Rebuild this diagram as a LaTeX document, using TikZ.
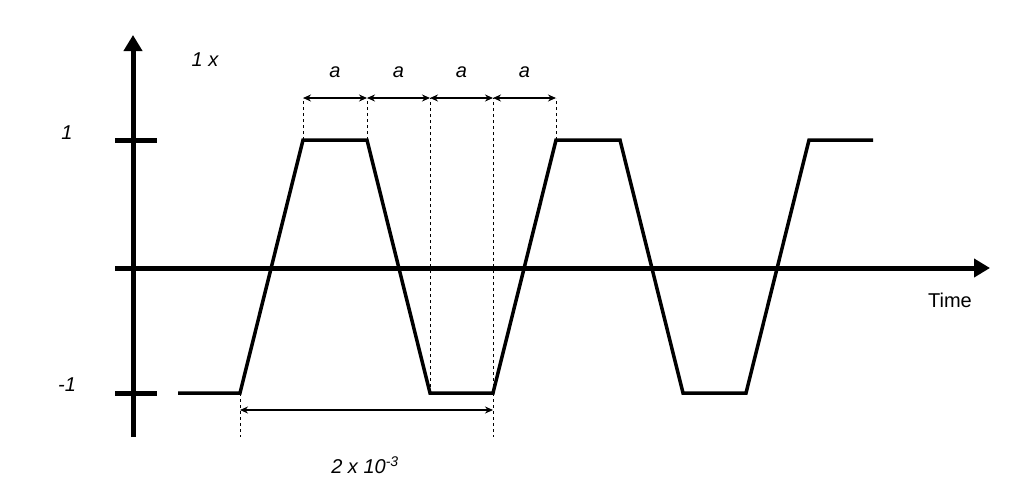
\documentclass[tikz,border=0pt]{standalone}
\usepackage{fontspec}
\setmainfont{Liberation Sans}
\usetikzlibrary{arrows.meta}
\begin{document}
\begin{tikzpicture}[x=1pt,y=-1pt,
  axis/.style={line width=5pt,-{Triangle[length=16pt,width=18pt]}},
  wave/.style={line width=3.5pt,line join=miter},
  guide/.style={dashed,line width=0.8pt},
  dim/.style={line width=1.2pt,{Stealth[length=8pt,width=7pt]}-{Stealth[length=8pt,width=7pt]}},
  lbl/.style={font=\fontsize{20}{24}\selectfont\itshape}]
\useasboundingbox (0,0) rectangle (1024,493);
\coordinate (yb) at (133,437); \coordinate (yt) at (133,35);
\coordinate (xl) at (115,268); \coordinate (xr) at (990,268);
\draw[axis] (yb) -- (yt);
\draw[axis] (xl) -- (xr);
\draw[line width=5pt] (115,140) -- (157,140);
\draw[line width=5pt] (115,393) -- (157,393);
\draw[wave] (178,393) -- (240,393) -- (303,140) -- (367,140) -- (430,393) -- (493,393) -- (556,140) -- (620,140) -- (683,393) -- (746,393) -- (809,140) -- (873,140);
\foreach \x/\y in {303/140,367/140,430/393,493/393,556/140} \draw[guide] (\x,\y) -- (\x,98);
\draw[guide] (240,393) -- (240,437);
\draw[guide] (493,393) -- (493,437);
\foreach \a/\b in {303/367,367/430,430/493,493/556}{
  \draw[dim] (\a,98) -- (\b,98);
  \node[lbl] at ({(\a+\b)/2},72) {a};}
\draw[dim] (240,410) -- (493,410);
\node[lbl] at (205,60) {1 x};
\node[lbl] at (67,133) {1};
\node[lbl] at (67,385) {-1};
\node[font=\fontsize{20}{24}\selectfont] at (950,300) {Time};
\node[lbl] at (365,465) {2 x 10\textsuperscript{-3}};
\end{tikzpicture}
\end{document}
